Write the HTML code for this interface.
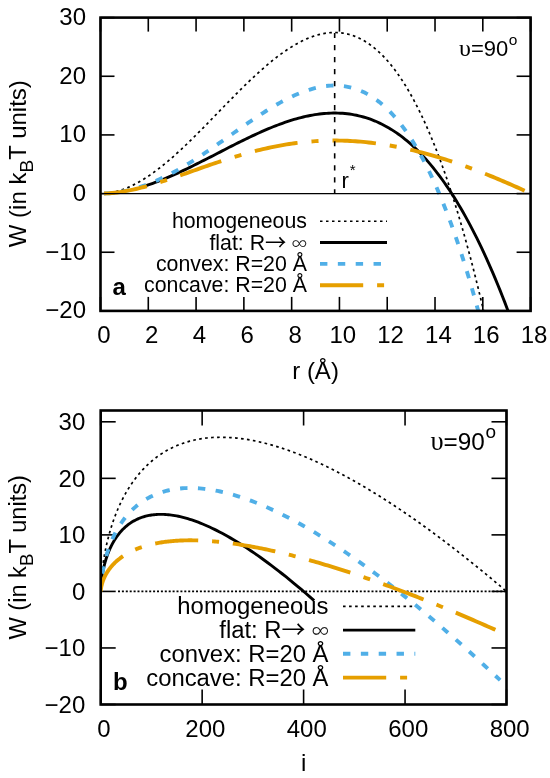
<!DOCTYPE html>
<html lang="en"><head><meta charset="utf-8"><title>Nucleation work on curved substrates</title>
<style>
html,body{margin:0;padding:0;background:#fff;}
svg{display:block;}
text{font-family:"Liberation Sans", Arial, sans-serif;fill:#000;}
</style></head><body>
<svg width="550" height="778" viewBox="0 0 550 778">
<rect width="550" height="778" fill="#fff"/>
<clipPath id="ca"><rect x="100.5" y="17.6" width="430.1" height="293.29999999999995"/></clipPath>
<clipPath id="cb"><rect x="100.7" y="410.5" width="405.8" height="294.0"/></clipPath>
<line x1="100.50" x2="100.50" y1="310.9" y2="296.9" stroke="#000" stroke-width="1.6"/>
<line x1="100.50" x2="100.50" y1="17.6" y2="31.6" stroke="#000" stroke-width="1.6"/>
<text x="103.90" y="343" font-size="24" text-anchor="middle">0</text>
<line x1="148.29" x2="148.29" y1="310.9" y2="296.9" stroke="#000" stroke-width="1.6"/>
<line x1="148.29" x2="148.29" y1="17.6" y2="31.6" stroke="#000" stroke-width="1.6"/>
<text x="151.69" y="343" font-size="24" text-anchor="middle">2</text>
<line x1="196.08" x2="196.08" y1="310.9" y2="296.9" stroke="#000" stroke-width="1.6"/>
<line x1="196.08" x2="196.08" y1="17.6" y2="31.6" stroke="#000" stroke-width="1.6"/>
<text x="199.48" y="343" font-size="24" text-anchor="middle">4</text>
<line x1="243.87" x2="243.87" y1="310.9" y2="296.9" stroke="#000" stroke-width="1.6"/>
<line x1="243.87" x2="243.87" y1="17.6" y2="31.6" stroke="#000" stroke-width="1.6"/>
<text x="247.27" y="343" font-size="24" text-anchor="middle">6</text>
<line x1="291.66" x2="291.66" y1="310.9" y2="296.9" stroke="#000" stroke-width="1.6"/>
<line x1="291.66" x2="291.66" y1="17.6" y2="31.6" stroke="#000" stroke-width="1.6"/>
<text x="295.06" y="343" font-size="24" text-anchor="middle">8</text>
<line x1="339.44" x2="339.44" y1="310.9" y2="296.9" stroke="#000" stroke-width="1.6"/>
<line x1="339.44" x2="339.44" y1="17.6" y2="31.6" stroke="#000" stroke-width="1.6"/>
<text x="342.84" y="343" font-size="24" text-anchor="middle">10</text>
<line x1="387.23" x2="387.23" y1="310.9" y2="296.9" stroke="#000" stroke-width="1.6"/>
<line x1="387.23" x2="387.23" y1="17.6" y2="31.6" stroke="#000" stroke-width="1.6"/>
<text x="390.63" y="343" font-size="24" text-anchor="middle">12</text>
<line x1="435.02" x2="435.02" y1="310.9" y2="296.9" stroke="#000" stroke-width="1.6"/>
<line x1="435.02" x2="435.02" y1="17.6" y2="31.6" stroke="#000" stroke-width="1.6"/>
<text x="438.42" y="343" font-size="24" text-anchor="middle">14</text>
<line x1="482.81" x2="482.81" y1="310.9" y2="296.9" stroke="#000" stroke-width="1.6"/>
<line x1="482.81" x2="482.81" y1="17.6" y2="31.6" stroke="#000" stroke-width="1.6"/>
<text x="486.21" y="343" font-size="24" text-anchor="middle">16</text>
<line x1="530.60" x2="530.60" y1="310.9" y2="296.9" stroke="#000" stroke-width="1.6"/>
<line x1="530.60" x2="530.60" y1="17.6" y2="31.6" stroke="#000" stroke-width="1.6"/>
<text x="534.00" y="343" font-size="24" text-anchor="middle">18</text>
<line x1="100.5" x2="114.5" y1="310.90" y2="310.90" stroke="#000" stroke-width="1.6"/>
<line x1="530.6" x2="516.6" y1="310.90" y2="310.90" stroke="#000" stroke-width="1.6"/>
<text x="86.0" y="318.40" font-size="24" text-anchor="end">−20</text>
<line x1="100.5" x2="114.5" y1="252.24" y2="252.24" stroke="#000" stroke-width="1.6"/>
<line x1="530.6" x2="516.6" y1="252.24" y2="252.24" stroke="#000" stroke-width="1.6"/>
<text x="86.0" y="259.74" font-size="24" text-anchor="end">−10</text>
<line x1="100.5" x2="114.5" y1="193.58" y2="193.58" stroke="#000" stroke-width="1.6"/>
<line x1="530.6" x2="516.6" y1="193.58" y2="193.58" stroke="#000" stroke-width="1.6"/>
<text x="86.0" y="201.08" font-size="24" text-anchor="end">0</text>
<line x1="100.5" x2="114.5" y1="134.92" y2="134.92" stroke="#000" stroke-width="1.6"/>
<line x1="530.6" x2="516.6" y1="134.92" y2="134.92" stroke="#000" stroke-width="1.6"/>
<text x="86.0" y="142.42" font-size="24" text-anchor="end">10</text>
<line x1="100.5" x2="114.5" y1="76.26" y2="76.26" stroke="#000" stroke-width="1.6"/>
<line x1="530.6" x2="516.6" y1="76.26" y2="76.26" stroke="#000" stroke-width="1.6"/>
<text x="86.0" y="83.76" font-size="24" text-anchor="end">20</text>
<line x1="100.5" x2="114.5" y1="17.60" y2="17.60" stroke="#000" stroke-width="1.6"/>
<line x1="530.6" x2="516.6" y1="17.60" y2="17.60" stroke="#000" stroke-width="1.6"/>
<text x="86.0" y="25.10" font-size="24" text-anchor="end">30</text>
<g clip-path="url(#ca)" fill="none">
<path d="M104.08,193.47 L106.50,193.27 L108.91,192.97 L111.32,192.58 L113.73,192.10 L116.14,191.52 L118.56,190.85 L120.97,190.10 L123.38,189.27 L125.79,188.35 L128.20,187.35 L130.62,186.27 L133.03,185.12 L135.44,183.89 L137.85,182.59 L140.26,181.22 L142.68,179.79 L145.09,178.28 L147.50,176.72 L149.91,175.09 L152.32,173.40 L154.74,171.66 L157.15,169.86 L159.56,168.01 L161.97,166.11 L164.38,164.15 L166.80,162.16 L169.21,160.11 L171.62,158.03 L174.03,155.90 L176.44,153.74 L178.86,151.54 L181.27,149.31 L183.68,147.04 L186.09,144.75 L188.50,142.43 L190.92,140.08 L193.33,137.71 L195.74,135.32 L198.15,132.91 L200.56,130.48 L202.98,128.03 L205.39,125.58 L207.80,123.11 L210.21,120.64 L212.62,118.15 L215.04,115.67 L217.45,113.18 L219.86,110.69 L222.27,108.20 L224.68,105.72 L227.10,103.25 L229.51,100.78 L231.92,98.32 L234.33,95.88 L236.74,93.45 L239.16,91.03 L241.57,88.64 L243.98,86.26 L246.39,83.91 L248.80,81.59 L251.22,79.29 L253.63,77.02 L256.04,74.79 L258.45,72.58 L260.86,70.42 L263.28,68.29 L265.69,66.20 L268.10,64.15 L270.51,62.15 L272.92,60.19 L275.34,58.28 L277.75,56.42 L280.16,54.62 L282.57,52.87 L284.98,51.18 L287.40,49.54 L289.81,47.97 L292.22,46.46 L294.63,45.01 L297.04,43.64 L299.46,42.33 L301.87,41.09 L304.28,39.93 L306.69,38.85 L309.10,37.84 L311.51,36.91 L313.93,36.07 L316.34,35.31 L318.75,34.63 L321.16,34.04 L323.57,33.55 L325.99,33.15 L328.40,32.84 L330.81,32.63 L333.22,32.52 L335.63,32.51 L338.05,32.60 L340.46,32.80 L342.87,33.11 L345.28,33.52 L347.69,34.05 L350.11,34.69 L352.52,35.45 L354.93,36.33 L357.34,37.32 L359.75,38.44 L362.17,39.69 L364.58,41.06 L366.99,42.56 L369.40,44.19 L371.81,45.95 L374.23,47.85 L376.64,49.88 L379.05,52.06 L381.46,54.37 L383.87,56.83 L386.29,59.43 L388.70,62.19 L391.11,65.09 L393.52,68.14 L395.93,71.35 L398.35,74.72 L400.76,78.24 L403.17,81.92 L405.58,85.77 L407.99,89.78 L410.41,93.96 L412.82,98.30 L415.23,102.82 L417.64,107.51 L420.05,112.38 L422.47,117.42 L424.88,122.64 L427.29,128.05 L429.70,133.63 L432.11,139.41 L434.53,145.37 L436.94,151.52 L439.35,157.86 L441.76,164.40 L444.17,171.13 L446.59,178.07 L449.00,185.20 L451.41,192.54 L453.82,200.08 L456.23,207.82 L458.65,215.78 L461.06,223.95 L463.47,232.33 L465.88,240.92 L468.29,249.74 L470.71,258.77 L473.12,268.02 L475.53,277.50 L477.94,287.21 L480.35,297.14 L482.77,307.30 L485.18,317.70 L487.59,328.33" stroke="#000" stroke-width="1.7" stroke-dasharray="2.65 3.35"/>
<path d="M145.90,185.67 L148.21,184.91 L150.53,184.12 L152.84,183.31 L155.16,182.46 L157.47,181.60 L159.79,180.71 L162.10,179.79 L164.41,178.86 L166.73,177.90 L169.04,176.92 L171.36,175.92 L173.67,174.90 L175.99,173.87 L178.30,172.82 L180.61,171.75 L182.93,170.67 L185.24,169.57 L187.56,168.46 L189.87,167.34 L192.19,166.21 L194.50,165.06 L196.81,163.91 L199.13,162.75 L201.44,161.58 L203.76,160.41 L206.07,159.23 L208.39,158.05 L210.70,156.86 L213.01,155.67 L215.33,154.47 L217.64,153.28 L219.96,152.09 L222.27,150.89 L224.59,149.70 L226.90,148.51 L229.21,147.33 L231.53,146.15 L233.84,144.97 L236.16,143.81 L238.47,142.65 L240.79,141.50 L243.10,140.35 L245.41,139.22 L247.73,138.10 L250.04,136.99 L252.36,135.90 L254.67,134.82 L256.99,133.75 L259.30,132.70 L261.61,131.66 L263.93,130.65 L266.24,129.65 L268.56,128.67 L270.87,127.72 L273.19,126.78 L275.50,125.87 L277.81,124.98 L280.13,124.11 L282.44,123.27 L284.76,122.46 L287.07,121.67 L289.39,120.91 L291.70,120.18 L294.01,119.48 L296.33,118.81 L298.64,118.17 L300.96,117.57 L303.27,116.99 L305.59,116.46 L307.90,115.96 L310.22,115.49 L312.53,115.06 L314.84,114.67 L317.16,114.32 L319.47,114.01 L321.79,113.74 L324.10,113.52 L326.42,113.33 L328.73,113.19 L331.04,113.10 L333.36,113.05 L335.67,113.04 L337.99,113.09 L340.30,113.18 L342.62,113.32 L344.93,113.52 L347.24,113.76 L349.56,114.06 L351.87,114.41 L354.19,114.81 L356.50,115.27 L358.82,115.79 L361.13,116.36 L363.44,116.99 L365.76,117.68 L368.07,118.43 L370.39,119.23 L372.70,120.11 L375.02,121.04 L377.33,122.03 L379.64,123.10 L381.96,124.22 L384.27,125.42 L386.59,126.67 L388.90,128.00 L391.22,129.40 L393.53,130.87 L395.84,132.41 L398.16,134.01 L400.47,135.70 L402.79,137.45 L405.10,139.29 L407.42,141.19 L409.73,143.17 L412.04,145.24 L414.36,147.37 L416.67,149.59 L418.99,151.89 L421.30,154.27 L423.62,156.73 L425.93,159.28 L428.24,161.91 L430.56,164.62 L432.87,167.42 L435.19,170.31 L437.50,173.28 L439.82,176.35 L442.13,179.50 L444.44,182.74 L446.76,186.08 L449.07,189.50 L451.39,193.02 L453.70,196.64 L456.02,200.35 L458.33,204.15 L460.64,208.06 L462.96,212.06 L465.27,216.16 L467.59,220.36 L469.90,224.66 L472.22,229.06 L474.53,233.56 L476.85,238.17 L479.16,242.89 L481.47,247.70 L483.79,252.63 L486.10,257.66 L488.42,262.80 L490.73,268.05 L493.05,273.41 L495.36,278.88 L497.67,284.46 L499.99,290.16 L502.30,295.97 L504.62,301.89 L506.93,307.93 L509.25,314.09 L511.56,320.36 L513.87,326.76" stroke="#000" stroke-width="2.9"/>
<path d="M104.08,193.52 L106.50,193.42 L108.91,193.27 L111.32,193.07 L113.73,192.82 L116.14,192.52 L118.56,192.17 L120.97,191.77 L123.38,191.32 L125.79,190.83 L128.20,190.29 L130.62,189.70 L133.03,189.07 L135.44,188.39 L137.85,187.66 L140.26,186.90 L142.68,186.09 L145.09,185.23 L147.50,184.34 L149.91,183.40 L152.32,182.43 L154.74,181.41 L157.15,180.36 L159.56,179.27 L161.97,178.14 L164.38,176.97 L166.80,175.77 L169.21,174.54 L171.62,173.27 L174.03,171.97 L176.44,170.64 L178.86,169.28 L181.27,167.89 L183.68,166.47 L186.09,165.03 L188.50,163.56 L190.92,162.07 L193.33,160.55 L195.74,159.01 L198.15,157.46 L200.56,155.88 L202.98,154.28 L205.39,152.67 L207.80,151.04 L210.21,149.40 L212.62,147.74 L215.04,146.08 L217.45,144.40 L219.86,142.72 L222.27,141.03 L224.68,139.33 L227.10,137.63 L229.51,135.93 L231.92,134.23 L234.33,132.53 L236.74,130.83 L239.16,129.14 L241.57,127.45 L243.98,125.77 L246.39,124.10 L248.80,122.44 L251.22,120.79 L253.63,119.15 L256.04,117.54 L258.45,115.94 L260.86,114.36 L263.28,112.80 L265.69,111.26 L268.10,109.75 L270.51,108.27 L272.92,106.81 L275.34,105.39 L277.75,104.00 L280.16,102.64 L282.57,101.32 L284.98,100.04 L287.40,98.80 L289.81,97.60 L292.22,96.44 L294.63,95.33 L297.04,94.27 L299.46,93.26 L301.87,92.31 L304.28,91.40 L306.69,90.56 L309.10,89.77 L311.51,89.04 L313.93,88.37 L316.34,87.77 L318.75,87.24 L321.16,86.77 L323.57,86.38 L325.99,86.05 L328.40,85.81 L330.81,85.64 L333.22,85.55 L335.63,85.54 L338.05,85.62 L340.46,85.78 L342.87,86.03 L345.28,86.37 L347.69,86.80 L350.11,87.33 L352.52,87.95 L354.93,88.68 L357.34,89.50 L359.75,90.43 L362.17,91.46 L364.58,92.60 L366.99,93.86 L369.40,95.22 L371.81,96.70 L374.23,98.30 L376.64,100.01 L379.05,101.85 L381.46,103.81 L383.87,105.90 L386.29,108.11 L388.70,110.46 L391.11,112.94 L393.52,115.55 L395.93,118.30 L398.35,121.19 L400.76,124.22 L403.17,127.40 L405.58,130.72 L407.99,134.19 L410.41,137.81 L412.82,141.59 L415.23,145.52 L417.64,149.61 L420.05,153.85 L422.47,158.26 L424.88,162.84 L427.29,167.58 L429.70,172.50 L432.11,177.58 L434.53,182.84 L436.94,188.27 L439.35,193.88 L441.76,199.68 L444.17,205.65 L446.59,211.81 L449.00,218.16 L451.41,224.70 L453.82,231.43 L456.23,238.36 L458.65,245.48 L461.06,252.80 L463.47,260.33 L465.88,268.05 L468.29,275.99 L470.71,284.13 L473.12,292.48 L475.53,301.05 L477.94,309.83 L480.35,318.82 L482.77,328.04 L485.18,337.48 L487.59,347.14" stroke="#50AFE7" stroke-width="3.9" stroke-dasharray="7.4 10.45"/>
<path d="M104.08,193.52 L106.73,193.41 L109.37,193.25 L112.02,193.03 L114.66,192.76 L117.31,192.44 L119.95,192.07 L122.60,191.66 L125.24,191.20 L127.89,190.70 L130.53,190.17 L133.18,189.60 L135.82,188.99 L138.47,188.36 L141.11,187.69 L143.76,186.99 L146.40,186.27 L149.05,185.52 L151.69,184.74 L154.34,183.95 L156.98,183.13 L159.63,182.30 L162.27,181.45 L164.92,180.59 L167.56,179.71 L170.21,178.82 L172.85,177.92 L175.50,177.01 L178.14,176.09 L180.79,175.17 L183.43,174.24 L186.08,173.30 L188.72,172.37 L191.37,171.43 L194.01,170.49 L196.66,169.56 L199.30,168.62 L201.95,167.69 L204.59,166.77 L207.24,165.85 L209.88,164.93 L212.53,164.02 L215.17,163.12 L217.82,162.23 L220.46,161.35 L223.11,160.48 L225.75,159.62 L228.40,158.78 L231.04,157.94 L233.69,157.12 L236.33,156.32 L238.98,155.53 L241.62,154.75 L244.26,154.00 L246.91,153.25 L249.55,152.53 L252.20,151.82 L254.84,151.14 L257.49,150.47 L260.13,149.82 L262.78,149.19 L265.42,148.57 L268.07,147.98 L270.71,147.42 L273.36,146.87 L276.00,146.34 L278.65,145.84 L281.29,145.35 L283.94,144.89 L286.58,144.45 L289.23,144.04 L291.87,143.64 L294.52,143.27 L297.16,142.93 L299.81,142.60 L302.45,142.30 L305.10,142.03 L307.74,141.77 L310.39,141.54 L313.03,141.34 L315.68,141.16 L318.32,141.00 L320.97,140.86 L323.61,140.75 L326.26,140.67 L328.90,140.60 L331.55,140.56 L334.19,140.55 L336.84,140.55 L339.48,140.58 L342.13,140.64 L344.77,140.72 L347.42,140.82 L350.06,140.94 L352.71,141.09 L355.35,141.26 L358.00,141.45 L360.64,141.67 L363.29,141.91 L365.93,142.17 L368.58,142.45 L371.22,142.76 L373.87,143.08 L376.51,143.43 L379.16,143.80 L381.80,144.19 L384.45,144.60 L387.09,145.04 L389.74,145.49 L392.38,145.97 L395.03,146.46 L397.67,146.97 L400.32,147.51 L402.96,148.06 L405.61,148.64 L408.25,149.23 L410.89,149.84 L413.54,150.47 L416.18,151.12 L418.83,151.79 L421.47,152.47 L424.12,153.18 L426.76,153.90 L429.41,154.64 L432.05,155.39 L434.70,156.16 L437.34,156.95 L439.99,157.76 L442.63,158.58 L445.28,159.41 L447.92,160.27 L450.57,161.13 L453.21,162.02 L455.86,162.92 L458.50,163.83 L461.15,164.75 L463.79,165.70 L466.44,166.65 L469.08,167.62 L471.73,168.60 L474.37,169.60 L477.02,170.61 L479.66,171.63 L482.31,172.66 L484.95,173.71 L487.60,174.76 L490.24,175.83 L492.89,176.92 L495.53,178.01 L498.18,179.11 L500.82,180.23 L503.47,181.35 L506.11,182.49 L508.76,183.63 L511.40,184.79 L514.05,185.96 L516.69,187.13 L519.34,188.32 L521.98,189.51 L524.63,190.71" stroke="#E69F00" stroke-width="3.9" stroke-dasharray="43.5 14 7.05 14"/>
<path d="M334.67,32.9 L334.67,193.58" stroke="#000" stroke-width="1.6" stroke-dasharray="5.2 6.83"/>
</g>
<line x1="100.5" x2="530.6" y1="193.58" y2="193.58" stroke="#000" stroke-width="1.3"/>
<rect x="100.5" y="17.6" width="430.1" height="293.29999999999995" fill="none" stroke="#000" stroke-width="2.6"/>
<text x="315.55" y="378.5" font-size="24" text-anchor="middle">r (Å)</text>
<text transform="translate(26.1,247.25) rotate(-90)" font-size="24">W (in k<tspan font-size="19.2" dy="7">B</tspan><tspan dy="-7">T units)</tspan></text>
<text x="459.0" y="56.1" font-size="22"><tspan font-family='"Liberation Serif", "DejaVu Serif", serif' font-size="24">υ</tspan>=90<tspan font-size="15.5" dy="-11.5" dx="0.6">o</tspan></text>
<text x="341.6" y="187.6" font-size="22">r<tspan font-size="15" dy="-12.3" dx="0.9">*</tspan></text>
<text x="112.6" y="294.5" font-size="24" font-weight="bold">a</text>
<text x="306.9" y="227.6" font-size="21.3" text-anchor="end">homogeneous</text>
<text x="306.9" y="249.6" font-size="21.3" text-anchor="end">flat: R<tspan font-family='"Noto Sans CJK SC", sans-serif' font-size="21.3">→</tspan> <tspan font-family='NanumGothic, "Liberation Serif", serif' font-size="18.0" stroke="#000" stroke-width="0.15">∞</tspan></text>
<text x="306.9" y="270.9" font-size="21.3" text-anchor="end">convex: R=20 Å</text>
<text x="306.9" y="292.0" font-size="21.3" text-anchor="end">concave: R=20 Å</text>
<path d="M320,221.2 H387" stroke="#000" stroke-width="1.6" stroke-dasharray="2.5 3.5" fill="none"/>
<path d="M320,242.5 H387" stroke="#000" stroke-width="2.9" fill="none"/>
<path d="M320,263.9 H387" stroke="#50AFE7" stroke-width="3.9" stroke-dasharray="7.4 10.45" fill="none"/>
<path d="M320,285.2 H387" stroke="#E69F00" stroke-width="3.9" stroke-dasharray="43.2 13.9 7 13.9" fill="none"/>
<path d="M118,591.42 H506.5" stroke="#000" stroke-width="1.6" stroke-dasharray="2 1.9" fill="none"/>
<line x1="100.70" x2="100.70" y1="704.5" y2="689.5" stroke="#000" stroke-width="1.6"/>
<line x1="100.70" x2="100.70" y1="410.5" y2="425.5" stroke="#000" stroke-width="1.6"/>
<text x="103.90" y="736.5" font-size="24" text-anchor="middle">0</text>
<line x1="202.15" x2="202.15" y1="704.5" y2="689.5" stroke="#000" stroke-width="1.6"/>
<line x1="202.15" x2="202.15" y1="410.5" y2="425.5" stroke="#000" stroke-width="1.6"/>
<text x="205.35" y="736.5" font-size="24" text-anchor="middle">200</text>
<line x1="303.60" x2="303.60" y1="704.5" y2="689.5" stroke="#000" stroke-width="1.6"/>
<line x1="303.60" x2="303.60" y1="410.5" y2="425.5" stroke="#000" stroke-width="1.6"/>
<text x="306.80" y="736.5" font-size="24" text-anchor="middle">400</text>
<line x1="405.05" x2="405.05" y1="704.5" y2="689.5" stroke="#000" stroke-width="1.6"/>
<line x1="405.05" x2="405.05" y1="410.5" y2="425.5" stroke="#000" stroke-width="1.6"/>
<text x="408.25" y="736.5" font-size="24" text-anchor="middle">600</text>
<line x1="506.50" x2="506.50" y1="704.5" y2="689.5" stroke="#000" stroke-width="1.6"/>
<line x1="506.50" x2="506.50" y1="410.5" y2="425.5" stroke="#000" stroke-width="1.6"/>
<text x="509.70" y="736.5" font-size="24" text-anchor="middle">800</text>
<line x1="100.7" x2="115.7" y1="704.50" y2="704.50" stroke="#000" stroke-width="1.6"/>
<line x1="506.5" x2="491.5" y1="704.50" y2="704.50" stroke="#000" stroke-width="1.6"/>
<text x="85.3" y="712.90" font-size="24" text-anchor="end">−20</text>
<line x1="100.7" x2="115.7" y1="647.96" y2="647.96" stroke="#000" stroke-width="1.6"/>
<line x1="506.5" x2="491.5" y1="647.96" y2="647.96" stroke="#000" stroke-width="1.6"/>
<text x="85.3" y="656.36" font-size="24" text-anchor="end">−10</text>
<line x1="100.7" x2="115.7" y1="591.42" y2="591.42" stroke="#000" stroke-width="1.6"/>
<line x1="506.5" x2="491.5" y1="591.42" y2="591.42" stroke="#000" stroke-width="1.6"/>
<text x="85.3" y="599.82" font-size="24" text-anchor="end">0</text>
<line x1="100.7" x2="115.7" y1="534.88" y2="534.88" stroke="#000" stroke-width="1.6"/>
<line x1="506.5" x2="491.5" y1="534.88" y2="534.88" stroke="#000" stroke-width="1.6"/>
<text x="85.3" y="543.28" font-size="24" text-anchor="end">10</text>
<line x1="100.7" x2="115.7" y1="478.35" y2="478.35" stroke="#000" stroke-width="1.6"/>
<line x1="506.5" x2="491.5" y1="478.35" y2="478.35" stroke="#000" stroke-width="1.6"/>
<text x="85.3" y="486.75" font-size="24" text-anchor="end">20</text>
<line x1="100.7" x2="115.7" y1="421.81" y2="421.81" stroke="#000" stroke-width="1.6"/>
<line x1="506.5" x2="491.5" y1="421.81" y2="421.81" stroke="#000" stroke-width="1.6"/>
<text x="85.3" y="430.21" font-size="24" text-anchor="end">30</text>
<g clip-path="url(#cb)" fill="none">
<path d="M101.21,580.65 L101.21,580.65 L101.21,580.64 L101.21,580.63 L101.21,580.61 L101.21,580.59 L101.21,580.56 L101.22,580.53 L101.22,580.49 L101.22,580.45 L101.23,580.40 L101.23,580.34 L101.23,580.29 L101.24,580.22 L101.24,580.15 L101.25,580.08 L101.26,580.00 L101.26,579.92 L101.27,579.83 L101.28,579.73 L101.29,579.63 L101.29,579.52 L101.30,579.41 L101.31,579.29 L101.32,579.17 L101.33,579.04 L101.35,578.90 L101.36,578.76 L101.37,578.61 L101.38,578.46 L101.40,578.30 L101.41,578.13 L101.43,577.96 L101.44,577.78 L101.46,577.60 L101.47,577.40 L101.49,577.20 L101.51,577.00 L101.53,576.79 L101.55,576.57 L101.57,576.34 L101.59,576.10 L101.62,575.86 L101.64,575.61 L101.66,575.36 L101.69,575.09 L101.72,574.82 L101.75,574.54 L101.78,574.26 L101.81,573.96 L101.84,573.66 L101.87,573.35 L101.90,573.02 L101.94,572.70 L101.98,572.36 L102.01,572.01 L102.05,571.66 L102.10,571.29 L102.14,570.92 L102.18,570.54 L102.23,570.15 L102.28,569.75 L102.33,569.34 L102.38,568.91 L102.43,568.48 L102.49,568.04 L102.54,567.60 L102.60,567.14 L102.67,566.66 L102.73,566.18 L102.80,565.69 L102.87,565.19 L102.94,564.68 L103.01,564.16 L103.09,563.62 L103.17,563.08 L103.25,562.52 L103.34,561.95 L103.42,561.38 L103.52,560.79 L103.61,560.18 L103.71,559.57 L103.81,558.95 L103.92,558.31 L104.02,557.66 L104.14,557.00 L104.25,556.33 L104.37,555.65 L104.50,554.95 L104.63,554.24 L104.76,553.52 L104.90,552.79 L105.04,552.04 L105.19,551.29 L105.34,550.52 L105.50,549.73 L105.66,548.94 L105.82,548.13 L106.00,547.31 L106.18,546.48 L106.36,545.63 L106.55,544.77 L106.75,543.90 L106.95,543.02 L107.16,542.13 L107.38,541.22 L107.60,540.30 L107.83,539.36 L108.07,538.42 L108.32,537.46 L108.57,536.49 L108.83,535.51 L109.10,534.51 L109.38,533.50 L109.66,532.48 L109.96,531.45 L110.26,530.41 L110.58,529.35 L110.90,528.29 L111.23,527.21 L111.58,526.12 L111.93,525.01 L112.29,523.90 L112.67,522.78 L113.05,521.64 L113.45,520.50 L113.86,519.34 L114.28,518.18 L114.71,517.00 L115.16,515.82 L115.62,514.62 L116.09,513.42 L116.58,512.20 L117.08,510.98 L117.59,509.75 L118.12,508.51 L118.66,507.27 L119.22,506.01 L119.80,504.75 L120.39,503.48 L120.99,502.21 L121.62,500.93 L122.26,499.64 L122.92,498.35 L123.60,497.05 L124.29,495.75 L125.01,494.45 L125.74,493.14 L126.49,491.83 L127.27,490.52 L128.06,489.20 L128.88,487.88 L129.71,486.56 L130.57,485.25 L131.45,483.93 L132.36,482.61 L133.29,481.29 L134.24,479.98 L135.22,478.67 L136.22,477.36 L137.25,476.06 L138.30,474.76 L139.38,473.47 L140.49,472.18 L141.63,470.90 L142.79,469.63 L143.99,468.37 L145.21,467.11 L146.47,465.87 L147.75,464.64 L149.07,463.42 L150.42,462.22 L151.80,461.02 L153.22,459.85 L154.67,458.69 L156.16,457.54 L157.68,456.42 L159.24,455.31 L160.83,454.22 L162.46,453.16 L164.14,452.12 L165.85,451.10 L167.60,450.11 L169.39,449.14 L171.23,448.20 L173.10,447.29 L175.02,446.40 L176.99,445.55 L179.00,444.74 L181.06,443.95 L183.16,443.20 L185.31,442.49 L187.51,441.82 L189.76,441.18 L192.06,440.59 L194.41,440.04 L196.81,439.53 L199.27,439.07 L201.78,438.66 L204.35,438.30 L206.97,437.99 L209.65,437.73 L212.39,437.52 L215.19,437.38 L218.05,437.29 L220.97,437.26 L223.95,437.29 L227.00,437.38 L230.11,437.54 L233.28,437.77 L236.53,438.07 L239.84,438.44 L243.22,438.89 L246.68,439.41 L250.20,440.01 L253.80,440.69 L257.48,441.45 L261.22,442.30 L265.05,443.24 L268.95,444.26 L272.94,445.38 L277.00,446.60 L281.15,447.91 L285.38,449.32 L289.70,450.83 L294.10,452.44 L298.59,454.17 L303.17,456.00 L307.84,457.95 L312.60,460.02 L317.46,462.20 L322.41,464.50 L327.46,466.93 L332.61,469.49 L337.85,472.17 L343.20,474.99 L348.65,477.95 L354.21,481.04 L359.87,484.28 L365.64,487.67 L371.52,491.20 L377.51,494.89 L383.62,498.73 L389.84,502.73 L396.18,506.90 L402.63,511.23 L409.21,515.73 L415.91,520.40 L422.73,525.25 L429.68,530.29 L436.75,535.51 L443.96,540.91 L451.29,546.51 L458.76,552.30 L466.37,558.30 L474.11,564.50 L482.00,570.91 L490.02,577.53 L498.19,584.36 L506.51,591.42" stroke="#000" stroke-width="1.7" stroke-dasharray="2.65 3.35"/>
<path d="M101.21,583.14 L101.21,583.14 L101.21,583.13 L101.21,583.13 L101.21,583.12 L101.21,583.10 L101.21,583.09 L101.21,583.07 L101.22,583.04 L101.22,583.02 L101.22,582.99 L101.23,582.96 L101.23,582.93 L101.23,582.89 L101.24,582.85 L101.24,582.80 L101.25,582.76 L101.25,582.71 L101.26,582.66 L101.26,582.60 L101.27,582.54 L101.28,582.48 L101.28,582.41 L101.29,582.34 L101.30,582.27 L101.30,582.20 L101.31,582.12 L101.32,582.03 L101.33,581.95 L101.34,581.86 L101.35,581.77 L101.36,581.67 L101.37,581.57 L101.39,581.47 L101.40,581.36 L101.41,581.25 L101.42,581.14 L101.44,581.02 L101.45,580.90 L101.47,580.77 L101.48,580.64 L101.50,580.51 L101.51,580.37 L101.53,580.23 L101.55,580.09 L101.57,579.94 L101.59,579.79 L101.61,579.63 L101.63,579.47 L101.65,579.30 L101.67,579.13 L101.69,578.96 L101.72,578.78 L101.74,578.59 L101.77,578.41 L101.80,578.21 L101.82,578.02 L101.85,577.82 L101.88,577.61 L101.91,577.40 L101.94,577.18 L101.98,576.96 L102.01,576.74 L102.05,576.51 L102.08,576.27 L102.12,576.03 L102.16,575.79 L102.20,575.54 L102.24,575.28 L102.28,575.02 L102.33,574.76 L102.37,574.49 L102.42,574.21 L102.47,573.93 L102.52,573.64 L102.57,573.35 L102.62,573.06 L102.68,572.75 L102.73,572.44 L102.79,572.13 L102.85,571.81 L102.92,571.49 L102.98,571.15 L103.05,570.82 L103.12,570.48 L103.19,570.13 L103.26,569.78 L103.34,569.42 L103.42,569.05 L103.50,568.68 L103.58,568.30 L103.67,567.92 L103.75,567.53 L103.85,567.14 L103.94,566.74 L104.04,566.33 L104.14,565.92 L104.24,565.50 L104.34,565.08 L104.45,564.65 L104.57,564.22 L104.68,563.78 L104.80,563.33 L104.92,562.88 L105.05,562.42 L105.18,561.96 L105.32,561.49 L105.45,561.01 L105.60,560.53 L105.74,560.05 L105.89,559.55 L106.05,559.06 L106.21,558.55 L106.37,558.05 L106.54,557.53 L106.71,557.01 L106.89,556.49 L107.08,555.96 L107.26,555.43 L107.46,554.89 L107.66,554.34 L107.86,553.79 L108.08,553.24 L108.29,552.68 L108.52,552.12 L108.75,551.55 L108.98,550.98 L109.22,550.41 L109.47,549.83 L109.73,549.24 L109.99,548.65 L110.26,548.06 L110.54,547.47 L110.82,546.87 L111.11,546.27 L111.41,545.67 L111.72,545.06 L112.04,544.45 L112.36,543.84 L112.69,543.22 L113.04,542.61 L113.39,541.99 L113.75,541.37 L114.12,540.75 L114.50,540.12 L114.88,539.50 L115.28,538.88 L115.69,538.25 L116.11,537.63 L116.54,537.00 L116.98,536.38 L117.43,535.75 L117.90,535.13 L118.37,534.51 L118.86,533.89 L119.36,533.27 L119.87,532.65 L120.39,532.04 L120.93,531.42 L121.48,530.82 L122.04,530.21 L122.62,529.61 L123.21,529.01 L123.82,528.42 L124.44,527.84 L125.07,527.25 L125.72,526.68 L126.39,526.11 L127.07,525.55 L127.77,524.99 L128.48,524.44 L129.21,523.90 L129.96,523.37 L130.72,522.85 L131.51,522.34 L132.31,521.84 L133.13,521.35 L133.96,520.87 L134.82,520.40 L135.70,519.94 L136.60,519.50 L137.51,519.07 L138.45,518.65 L139.41,518.25 L140.39,517.87 L141.40,517.50 L142.42,517.15 L143.47,516.81 L144.54,516.49 L145.63,516.20 L146.75,515.92 L147.90,515.66 L149.06,515.42 L150.26,515.20 L151.48,515.01 L152.72,514.84 L153.99,514.69 L155.29,514.57 L156.62,514.47 L157.98,514.40 L159.36,514.35 L160.77,514.34 L162.22,514.35 L163.69,514.40 L165.19,514.47 L166.73,514.58 L168.30,514.72 L169.90,514.89 L171.53,515.10 L173.19,515.34 L174.89,515.62 L176.63,515.94 L178.40,516.29 L180.21,516.69 L182.05,517.12 L183.93,517.60 L185.85,518.13 L187.80,518.69 L189.80,519.30 L191.83,519.96 L193.90,520.67 L196.02,521.42 L198.18,522.23 L200.38,523.08 L202.62,523.99 L204.90,524.96 L207.23,525.98 L209.61,527.05 L212.03,528.19 L214.50,529.38 L217.01,530.64 L219.57,531.95 L222.19,533.33 L224.85,534.78 L227.56,536.29 L230.32,537.87 L233.13,539.52 L236.00,541.24 L238.92,543.04 L241.89,544.91 L244.92,546.85 L248.01,548.87 L251.15,550.98 L254.35,553.16 L257.61,555.43 L260.93,557.78 L264.31,560.21 L267.74,562.74 L271.25,565.35 L274.81,568.06 L278.44,570.86 L282.13,573.75 L285.89,576.74 L289.72,579.83 L293.61,583.03 L297.57,586.32 L301.61,589.72 L305.71,593.23 L309.88,596.85 L314.13,600.58" stroke="#000" stroke-width="2.9"/>
<path d="M102.41,573.50 L102.41,573.50 L102.41,573.49 L102.42,573.48 L102.42,573.46 L102.42,573.44 L102.43,573.42 L102.43,573.39 L102.44,573.36 L102.44,573.32 L102.45,573.28 L102.46,573.23 L102.46,573.18 L102.47,573.12 L102.48,573.06 L102.49,573.00 L102.51,572.93 L102.52,572.85 L102.53,572.77 L102.54,572.69 L102.56,572.60 L102.58,572.51 L102.59,572.41 L102.61,572.31 L102.63,572.20 L102.65,572.09 L102.67,571.97 L102.69,571.85 L102.71,571.72 L102.73,571.59 L102.75,571.45 L102.78,571.31 L102.80,571.16 L102.83,571.01 L102.86,570.85 L102.89,570.69 L102.92,570.52 L102.95,570.35 L102.98,570.17 L103.02,569.99 L103.05,569.80 L103.09,569.61 L103.12,569.41 L103.16,569.20 L103.20,568.99 L103.24,568.77 L103.29,568.55 L103.33,568.32 L103.38,568.09 L103.42,567.85 L103.47,567.60 L103.52,567.35 L103.58,567.10 L103.63,566.83 L103.69,566.56 L103.74,566.29 L103.80,566.01 L103.86,565.72 L103.93,565.42 L103.99,565.12 L104.06,564.82 L104.13,564.50 L104.20,564.18 L104.27,563.86 L104.35,563.52 L104.43,563.18 L104.51,562.84 L104.59,562.48 L104.67,562.12 L104.76,561.76 L104.85,561.39 L104.95,561.00 L105.04,560.62 L105.14,560.22 L105.24,559.82 L105.35,559.41 L105.46,559.00 L105.57,558.58 L105.68,558.15 L105.80,557.71 L105.92,557.26 L106.05,556.81 L106.18,556.35 L106.31,555.89 L106.45,555.41 L106.59,554.93 L106.73,554.44 L106.88,553.95 L107.04,553.45 L107.19,552.93 L107.36,552.42 L107.52,551.89 L107.69,551.36 L107.87,550.82 L108.05,550.27 L108.24,549.71 L108.43,549.15 L108.63,548.58 L108.83,548.00 L109.04,547.42 L109.25,546.82 L109.48,546.22 L109.70,545.62 L109.94,545.00 L110.18,544.38 L110.42,543.75 L110.68,543.11 L110.94,542.47 L111.20,541.82 L111.48,541.16 L111.76,540.50 L112.05,539.83 L112.35,539.15 L112.66,538.46 L112.97,537.77 L113.30,537.08 L113.63,536.37 L113.97,535.66 L114.32,534.94 L114.68,534.22 L115.05,533.49 L115.44,532.76 L115.83,532.02 L116.23,531.28 L116.64,530.53 L117.06,529.77 L117.50,529.01 L117.94,528.25 L118.40,527.48 L118.87,526.71 L119.35,525.93 L119.85,525.15 L120.35,524.36 L120.87,523.58 L121.41,522.79 L121.96,521.99 L122.52,521.20 L123.10,520.40 L123.69,519.60 L124.30,518.80 L124.92,517.99 L125.56,517.19 L126.22,516.39 L126.89,515.58 L127.58,514.78 L128.29,513.98 L129.02,513.17 L129.76,512.37 L130.52,511.58 L131.30,510.78 L132.11,509.99 L132.93,509.20 L133.77,508.41 L134.63,507.63 L135.52,506.85 L136.43,506.08 L137.35,505.31 L138.31,504.56 L139.28,503.80 L140.28,503.06 L141.31,502.32 L142.35,501.60 L143.43,500.88 L144.53,500.17 L145.66,499.48 L146.81,498.79 L147.99,498.12 L149.20,497.47 L150.44,496.82 L151.71,496.19 L153.01,495.58 L154.34,494.98 L155.70,494.40 L157.10,493.84 L158.52,493.30 L159.98,492.78 L161.47,492.28 L163.00,491.80 L164.57,491.35 L166.17,490.91 L167.80,490.51 L169.48,490.13 L171.19,489.78 L172.94,489.45 L174.74,489.16 L176.57,488.89 L178.45,488.66 L180.36,488.46 L182.32,488.30 L184.33,488.17 L186.38,488.08 L188.47,488.03 L190.61,488.01 L192.80,488.04 L195.04,488.11 L197.33,488.23 L199.66,488.39 L202.05,488.59 L204.49,488.85 L206.99,489.16 L209.54,489.51 L212.14,489.92 L214.80,490.39 L217.51,490.91 L220.29,491.50 L223.12,492.14 L226.02,492.84 L228.97,493.61 L231.99,494.44 L235.08,495.34 L238.22,496.31 L241.44,497.36 L244.72,498.47 L248.06,499.66 L251.48,500.93 L254.97,502.28 L258.53,503.71 L262.17,505.23 L265.88,506.83 L269.66,508.52 L273.52,510.30 L277.46,512.18 L281.48,514.15 L285.58,516.22 L289.77,518.39 L294.03,520.66 L298.39,523.04 L302.83,525.53 L307.35,528.13 L311.97,530.84 L316.68,533.67 L321.48,536.62 L326.37,539.68 L331.36,542.88 L336.45,546.20 L341.64,549.65 L346.92,553.24 L352.31,556.96 L357.80,560.83 L363.40,564.83 L369.11,568.98 L374.92,573.28 L380.84,577.74 L386.88,582.35 L393.02,587.12 L399.29,592.05 L405.67,597.14 L412.17,602.41 L418.79,607.85 L425.53,613.47 L432.40,619.26 L439.39,625.24 L446.52,631.41 L453.77,637.77 L461.16,644.33 L468.68,651.08 L476.33,658.04 L484.13,665.20 L492.06,672.58 L500.14,680.17" stroke="#50AFE7" stroke-width="3.9" stroke-dasharray="7.4 10.45"/>
<path d="M100.70,591.42 L100.71,591.18 L100.72,590.82 L100.75,590.40 L100.79,589.94 L100.85,589.45 L100.91,588.94 L100.99,588.40 L101.08,587.85 L101.18,587.28 L101.29,586.70 L101.41,586.12 L101.55,585.52 L101.70,584.91 L101.86,584.30 L102.03,583.68 L102.21,583.06 L102.41,582.43 L102.61,581.80 L102.83,581.17 L103.06,580.53 L103.30,579.89 L103.56,579.26 L103.82,578.62 L104.10,577.98 L104.39,577.34 L104.69,576.70 L105.01,576.06 L105.33,575.43 L105.67,574.79 L106.02,574.16 L106.38,573.53 L106.75,572.90 L107.13,572.27 L107.53,571.65 L107.93,571.02 L108.35,570.41 L108.78,569.79 L109.23,569.18 L109.68,568.57 L110.15,567.97 L110.63,567.37 L111.12,566.77 L111.62,566.18 L112.13,565.59 L112.66,565.01 L113.20,564.43 L113.75,563.86 L114.31,563.29 L114.88,562.73 L115.46,562.17 L116.06,561.62 L116.67,561.07 L117.29,560.53 L117.92,559.99 L118.56,559.46 L119.22,558.94 L119.89,558.42 L120.57,557.91 L121.26,557.40 L121.96,556.90 L122.68,556.40 L123.40,555.92 L124.14,555.43 L124.89,554.96 L125.65,554.49 L126.43,554.03 L127.21,553.57 L128.01,553.12 L128.82,552.68 L129.64,552.25 L130.47,551.82 L131.32,551.40 L132.17,550.98 L133.04,550.58 L133.92,550.18 L134.81,549.78 L135.72,549.40 L136.63,549.02 L137.56,548.65 L138.50,548.29 L139.45,547.93 L140.41,547.58 L141.38,547.24 L142.37,546.91 L143.37,546.59 L144.38,546.27 L145.40,545.96 L146.43,545.66 L147.48,545.36 L148.54,545.08 L149.61,544.80 L150.69,544.53 L151.78,544.27 L152.88,544.01 L154.00,543.77 L155.13,543.53 L156.27,543.30 L157.42,543.08 L158.58,542.87 L159.76,542.66 L160.94,542.47 L162.14,542.28 L163.35,542.10 L164.58,541.93 L165.81,541.76 L167.06,541.61 L168.31,541.46 L169.58,541.33 L170.87,541.20 L172.16,541.08 L173.46,540.97 L174.78,540.86 L176.11,540.77 L177.45,540.68 L178.80,540.61 L180.17,540.54 L181.54,540.48 L182.93,540.43 L184.33,540.39 L185.74,540.36 L187.17,540.33 L188.60,540.32 L190.05,540.31 L191.51,540.32 L192.98,540.33 L194.46,540.35 L195.95,540.38 L197.46,540.42 L198.98,540.47 L200.51,540.53 L202.05,540.59 L203.60,540.67 L205.17,540.75 L206.74,540.85 L208.33,540.95 L209.93,541.07 L211.54,541.19 L213.17,541.32 L214.80,541.46 L216.45,541.61 L218.11,541.77 L219.78,541.94 L221.47,542.12 L223.16,542.31 L224.87,542.50 L226.59,542.71 L228.32,542.93 L230.06,543.15 L231.81,543.39 L233.58,543.63 L235.36,543.89 L237.15,544.15 L238.95,544.42 L240.76,544.71 L242.59,545.00 L244.42,545.30 L246.27,545.61 L248.13,545.93 L250.00,546.27 L251.89,546.61 L253.78,546.96 L255.69,547.32 L257.61,547.69 L259.54,548.07 L261.48,548.46 L263.44,548.86 L265.40,549.27 L267.38,549.68 L269.37,550.11 L271.38,550.55 L273.39,551.00 L275.42,551.46 L277.45,551.93 L279.50,552.41 L281.56,552.89 L283.64,553.39 L285.72,553.90 L287.82,554.42 L289.93,554.95 L292.05,555.48 L294.18,556.03 L296.32,556.59 L298.48,557.16 L300.64,557.74 L302.82,558.32 L305.01,558.92 L307.22,559.53 L309.43,560.15 L311.66,560.78 L313.90,561.42 L316.15,562.06 L318.41,562.72 L320.68,563.39 L322.97,564.07 L325.27,564.76 L327.57,565.46 L329.90,566.17 L332.23,566.89 L334.57,567.62 L336.93,568.36 L339.30,569.11 L341.68,569.87 L344.07,570.64 L346.47,571.42 L348.89,572.21 L351.32,573.01 L353.75,573.83 L356.21,574.65 L358.67,575.48 L361.14,576.32 L363.63,577.18 L366.13,578.04 L368.64,578.92 L371.16,579.80 L373.69,580.69 L376.24,581.60 L378.79,582.52 L381.36,583.44 L383.94,584.38 L386.54,585.32 L389.14,586.28 L391.76,587.25 L394.39,588.23 L397.03,589.22 L399.68,590.22 L402.34,591.22 L405.02,592.24 L407.70,593.28 L410.40,594.32 L413.11,595.37 L415.84,596.43 L418.57,597.50 L421.32,598.59 L424.07,599.68 L426.84,600.78 L429.63,601.90 L432.42,603.02 L435.22,604.16 L438.04,605.31 L440.87,606.46 L443.71,607.63 L446.56,608.81 L449.43,610.00 L452.30,611.20 L455.19,612.41 L458.09,613.63 L461.00,614.86 L463.93,616.10 L466.86,617.36 L469.81,618.62 L472.77,619.89 L475.74,621.18 L478.72,622.47 L481.71,623.78 L484.72,625.10 L487.74,626.42 L490.77,627.76 L493.81,629.11 L496.86,630.47" stroke="#E69F00" stroke-width="3.9" stroke-dasharray="43.2 13.9 7 13.9"/>
</g>
<rect x="100.7" y="410.5" width="405.8" height="294.0" fill="none" stroke="#000" stroke-width="2.6"/>
<text x="303.60" y="771.1" font-size="24" text-anchor="middle">i</text>
<text transform="translate(25.8,639.60) rotate(-90)" font-size="23.65">W (in k<tspan font-size="18.9" dy="7">B</tspan><tspan dy="-7">T units)</tspan></text>
<text x="430.6" y="449.5" font-size="24.3"><tspan font-family='"Liberation Serif", "DejaVu Serif", serif' font-size="26.5">υ</tspan><tspan x="443.6">=90</tspan><tspan font-size="19" dy="-11.9" dx="0.6">o</tspan></text>
<text x="113" y="689.8" font-size="24" font-weight="bold">b</text>
<text x="328.5" y="614.0" font-size="23.85" text-anchor="end">homogeneous</text>
<text x="328.5" y="637.8" font-size="23.85" text-anchor="end">flat: R<tspan font-family='"Noto Sans CJK SC", sans-serif' font-size="23.9">→</tspan> <tspan font-family='NanumGothic, "Liberation Serif", serif' font-size="20.2" stroke="#000" stroke-width="0.15">∞</tspan></text>
<text x="328.5" y="661.8" font-size="23.85" text-anchor="end">convex: R=20 Å</text>
<text x="328.5" y="685.6" font-size="23.85" text-anchor="end">concave: R=20 Å</text>
<path d="M343,606.4 H415.3" stroke="#000" stroke-width="1.6" stroke-dasharray="2.6 3.45" fill="none"/>
<path d="M343,630.1 H415.3" stroke="#000" stroke-width="2.9" fill="none"/>
<path d="M343,653.8 H415.3" stroke="#50AFE7" stroke-width="3.9" stroke-dasharray="7.4 10.45" fill="none"/>
<path d="M343,677.6 H415.3" stroke="#E69F00" stroke-width="3.9" stroke-dasharray="43.2 13.9 7 13.9" fill="none"/>
</svg>
</body></html>
